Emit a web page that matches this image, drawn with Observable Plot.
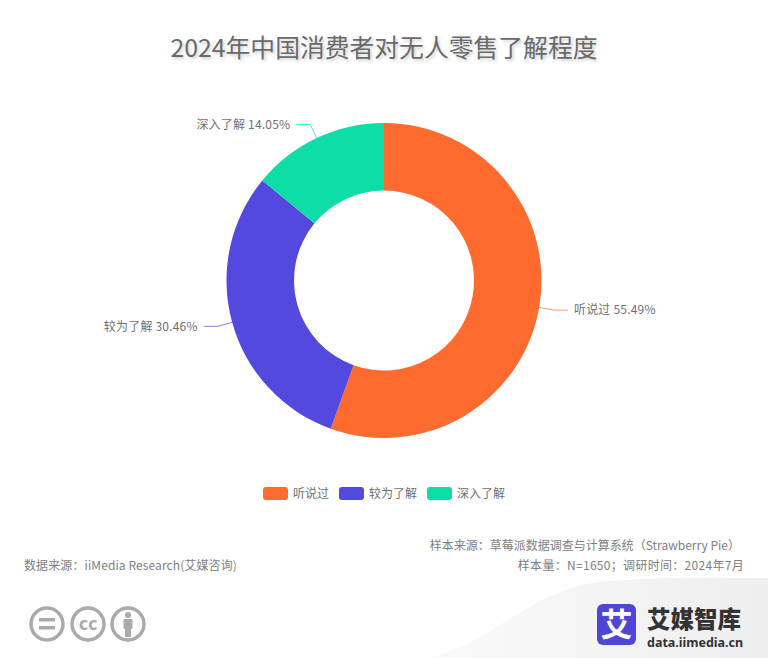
<!DOCTYPE html>
<html>
<head>
<meta charset="utf-8">
<script src="https://cdn.jsdelivr.net/npm/d3@7"></script>
<script src="https://cdn.jsdelivr.net/npm/@observablehq/plot@0.6"></script>
<style>
  body { margin: 0; background: #fff; font-family: "Noto Sans CJK SC", "Noto Sans", sans-serif; color: #666; }
  #page { position: relative; width: 768px; height: 658px; overflow: hidden; }
  #page > * { position: absolute; }
  #deco { left: 0; top: 0; }
  #chart { left: 0; top: 0; }
  #title { left: 0; width: 768px; top: 28px; text-align: center; font-size: 24.8px; line-height: 36px; color: #6a6a6a; text-shadow: 2px 2px 3px rgba(0,0,0,.18); }
  .foot { font-size: 12px; line-height: 16px; color: #808080; white-space: nowrap; }
  .swatch { width: 25px; height: 13px; border-radius: 3px; }
  .legend-label { font-size: 12px; line-height: 16px; color: #707070; white-space: nowrap; }
</style>
</head>
<body>
<div id="page">
  <svg id="deco" width="768" height="658">
    <defs>
      <linearGradient id="swoosh" x1="0" y1="0" x2="1" y2="0">
        <stop offset="0" stop-color="#fafafa"/>
        <stop offset="1" stop-color="#eeeeee"/>
      </linearGradient>
    </defs>
    <path d="M428 658 C490 645 530 590 600 582 C660 576 720 578 768 578 L768 658 Z" fill="url(#swoosh)"/>
    <g fill="none" stroke="#aaa" stroke-width="3.4">
      <circle cx="47" cy="624" r="16"/>
      <circle cx="88" cy="624" r="16"/>
      <circle cx="128" cy="624" r="16"/>
    </g>
    <g fill="#aaa">
      <rect x="39" y="618" width="16" height="3.5"/>
      <rect x="39" y="626" width="16" height="3.5"/>
      <circle cx="128" cy="615" r="3"/>
      <rect x="123.5" y="619" width="9" height="10" rx="1.5"/>
      <rect x="125" y="628" width="6" height="9"/>
    </g>
    <text x="88" y="630" text-anchor="middle" font-size="18" font-weight="700" fill="#aaa" font-family="Noto Sans">cc</text>
    <rect x="597" y="604" width="39" height="41" rx="6" fill="#4f46d8"/>
    <text x="616.5" y="636" text-anchor="middle" font-size="32" font-weight="700" fill="#fff" font-family="Noto Sans CJK SC">艾</text>
    <text x="647" y="628" font-size="23.5" font-weight="900" fill="#333" font-family="Noto Sans CJK SC">艾媒智库</text>
    <text x="647" y="647" font-size="12.5" font-weight="700" fill="#333" font-family="Noto Sans">data.iimedia.cn</text>
  </svg>
  <div id="chart"></div>
  <div id="title">2024年中国消费者对无人零售了解程度</div>
  <div id="legend"></div>
  <div class="foot" style="left:24px;top:557px;letter-spacing:.1px">数据来源：iiMedia Research(艾媒咨询)</div>
  <div class="foot" style="right:28px;top:537px">样本来源：草莓派数据调查与计算系统（Strawberry Pie）</div>
  <div class="foot" style="right:24px;top:557px;letter-spacing:.3px">样本量：N=1650；调研时间：2024年7月</div>
</div>
<script>
const names = ["听说过", "较为了解", "深入了解"]
const shares = [55.49, 30.46, 14.05]
const colors = ["#ff6b2e", "#5449de", "#0fdda8"]

const rows = names.map((name, i) => ({name, share: shares[i]}))

// Plot has no arc mark: stack a bar on an angular x scale and draw its extents as arcs
function donut(index, scales, values) {
  const g = d3.create("svg:g").attr("transform", "translate(384,280.5)")
  const arc = d3.arc().innerRadius(90).outerRadius(157.5)
  const r = 157.5
  for (const i of index) {
    const a0 = values.x1[i], a1 = values.x2[i], mid = (a0 + a1) / 2
    g.append("path")
      .attr("d", arc({startAngle: a0, endAngle: a1}))
      .attr("fill", values.fill[i])
    // leader line and label, as in the original
    const sx = Math.sin(mid), sy = -Math.cos(mid), side = sx > 0 ? 1 : -1
    const kneeX = sx * (r + 15), kneeY = sy * (r + 15)
    g.append("path")
      .attr("d", `M${sx * r},${sy * r}L${kneeX},${kneeY}H${kneeX + side * 14}`)
      .attr("fill", "none")
      .attr("stroke", values.fill[i])
      .attr("stroke-opacity", 0.7)
    g.append("text")
      .attr("x", kneeX + side * 20)
      .attr("y", kneeY)
      .attr("dy", "0.35em")
      .attr("text-anchor", side > 0 ? "start" : "end")
      .attr("font-size", 12)
      .attr("letter-spacing", 0.2)
      .attr("fill", "#707070")
      .text(`${rows[i].name} ${d3.format(".2f")(rows[i].share)}%`)
  }
  return g.node()
}

const chart = Plot.plot({
  width: 768,
  height: 658,
  margin: 0,
  style: {background: "transparent", fontFamily: "Noto Sans CJK SC"},
  x: {axis: null, domain: [0, 100], range: [0, 2 * Math.PI]},
  color: {domain: names, range: colors},
  marks: [
    Plot.barX(rows, Plot.stackX({x: "share", fill: "name", render: donut}))
  ]
})
d3.select("#chart").append(() => chart)

// legend under the ring
const legendX = [263, 339, 427]
const legend = d3.select("#page")
names.forEach((name, i) => {
  legend.append("div").attr("class", "swatch")
    .style("left", legendX[i] + "px").style("top", "487px").style("background", colors[i])
  legend.append("div").attr("class", "legend-label")
    .style("left", legendX[i] + 30 + "px").style("top", "485px").text(name)
})
</script>
</body>
</html>
